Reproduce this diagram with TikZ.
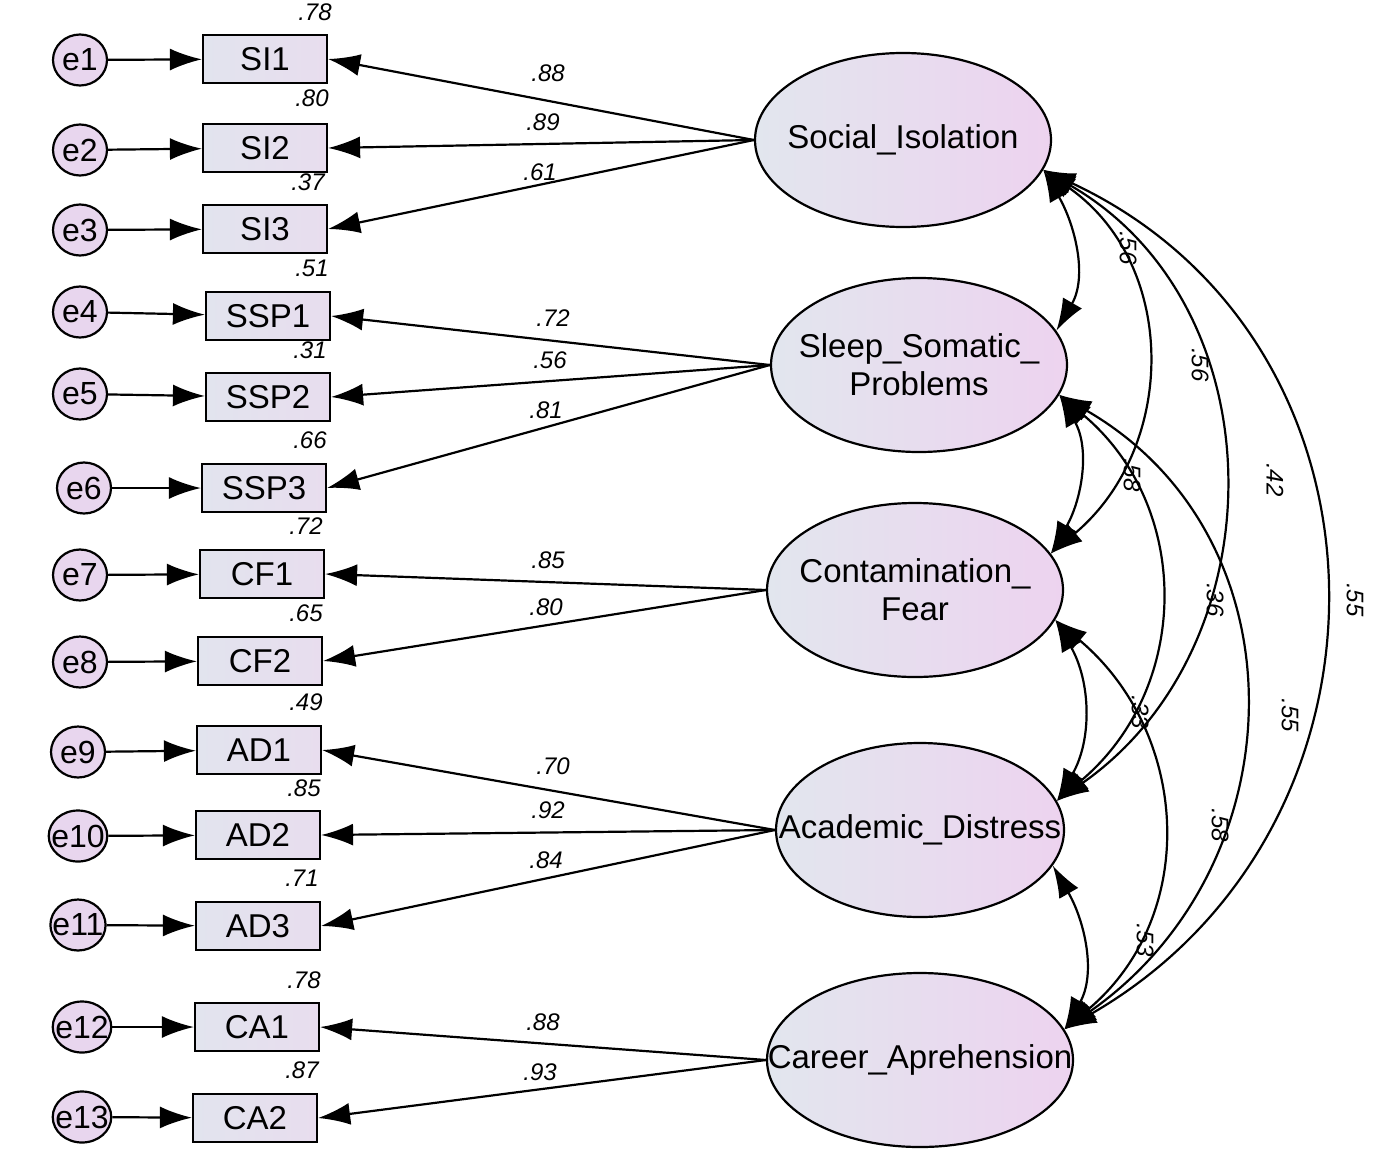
\documentclass[tikz,border=0pt]{standalone}
\usepackage{fontspec}
\setmainfont{Liberation Sans}
\usetikzlibrary{arrows.meta,shapes.geometric}
\begin{document}
\begin{tikzpicture}[x=0.5pt,y=-0.5pt,
  tip/.tip={Latex[length=16pt,width=11pt]},
  err/.style={draw,line width=1.1pt,ellipse,minimum width=27pt,minimum height=25.5pt,inner sep=-3pt,fill=errfill,font=\fontsize{16}{16}\selectfont},
  obs/.style={draw,line width=1.1pt,rectangle,minimum width=62pt,minimum height=24pt,inner sep=0pt,left color=boxl,right color=boxr,font=\fontsize{16.5}{16.5}\selectfont},
  lat/.style={draw,line width=1.1pt,ellipse,minimum width=148pt,minimum height=87pt,inner xsep=-16pt,inner ysep=0pt,left color=latl,right color=latr,align=center,font=\fontsize{16.5}{19}\selectfont},
  lbl/.style={font=\fontsize{12}{12}\selectfont\itshape,inner sep=0pt},
  arr/.style={line width=1.1pt,-tip},
  cov/.style={line width=1.1pt,tip-tip},
  cl/.style={lbl,rotate=-90}]
\definecolor{errfill}{HTML}{E8D6EE}
\definecolor{boxl}{HTML}{E2E4EE}
\definecolor{boxr}{HTML}{E8DDEE}
\definecolor{latl}{HTML}{E2E6EE}
\definecolor{latr}{HTML}{EDD3EF}
\useasboundingbox (0,0) rectangle (1379,1161);
% latent
\node[lat] (SI) at (903,140) {Social\_Isolation};
\node[lat] (SSP) at (919,365) {Sleep\_Somatic\_\\Problems};
\node[lat] (CF) at (915,590) {Contamination\_\\Fear};
\node[lat,minimum width=144pt,inner xsep=-24pt] (AD) at (920,830) {Academic\_Distress};
\node[lat,minimum width=153pt,inner xsep=-24pt] (CA) at (920,1060) {Career\_Aprehension};
% observed + errors
\foreach \n/\bx/\by/\ex/\ey/\r/\rx/\ry/\i in {
 SI1/265/59/80/60/.78/315/12/1, SI2/265/148/80/150/.80/312/98/2, SI3/265/229/80/230/.37/308/182/3,
 SSP1/268/316/80/312/.51/312/268/4, SSP2/268/397/80/394/.31/310/350/5, SSP3/264/488/84/488/.66/310/440/6,
 CF1/262/574/80/575/.72/306/526/7, CF2/260/661/80/662/.65/306/613/8,
 AD1/259/750/78/752/.49/306/702/9, AD2/258/835/78/836/.85/304/788/10, AD3/258/926/78/925/.71/302/878/11,
 CA1/257/1027/82/1027/.78/304/980/12, CA2/255/1118/82/1117/.87/302/1070/13}{
 \node[obs] (\n) at (\bx,\by) {\n};
 \node[err] (e\i) at (\ex,\ey) {e\i};
 \draw[arr] (e\i) -- (\n);
 \node[lbl] (r\i) at (\rx,\ry) {\r};
}
% loadings
\draw[arr] (SI.west) -- (SI1.east); \node[lbl] (l1) at (548,73) {.88};
\draw[arr] (SI.west) -- (SI2.east); \node[lbl] (l2) at (543,122) {.89};
\draw[arr] (SI.west) -- (SI3.east); \node[lbl] (l3) at (540,172) {.61};
\draw[arr] (SSP.west) -- (SSP1.east); \node[lbl] (l4) at (553,318) {.72};
\draw[arr] (SSP.west) -- (SSP2.east); \node[lbl] (l5) at (550,360) {.56};
\draw[arr] (SSP.west) -- (SSP3.east); \node[lbl] (l6) at (546,410) {.81};
\draw[arr] (CF.west) -- (CF1.east); \node[lbl] (l7) at (548,560) {.85};
\draw[arr] (CF.west) -- (CF2.east); \node[lbl] (l8) at (546,607) {.80};
\draw[arr] (AD.west) -- (AD1.east); \node[lbl] (l9) at (553,766) {.70};
\draw[arr] (AD.west) -- (AD2.east); \node[lbl] (l10) at (548,810) {.92};
\draw[arr] (AD.west) -- (AD3.east); \node[lbl] (l11) at (546,860) {.84};
\draw[arr] (CA.west) -- (CA1.east); \node[lbl] (l12) at (543,1022) {.88};
\draw[arr] (CA.west) -- (CA2.east); \node[lbl] (l13) at (540,1072) {.93};
% covariances
\draw[cov] (SI.-12) to[out=-60,in=60] (SSP.14);
\node[cl] (c1) at (1128,248) {.56};
\draw[cov] (SI.-12) to[out=-35,in=40,looseness=1.1] (CF.15);
\node[cl] (c2) at (1200,365) {.56};
\draw[cov] (SI.-12) to[out=-30,in=35,looseness=1.1] (AD.12);
\node[cl] (c3) at (1275,480) {.42};
\draw[cov] (SI.-12) to[out=-25,in=30,looseness=1.2] (CA.12);
\node[cl] (c4) at (1355,600) {.55};
\draw[cov] (SSP.-12) to[out=-60,in=60] (CF.15);
\node[cl] (c5) at (1132,475) {.58};
\draw[cov] (SSP.-12) to[out=-40,in=40,looseness=1.1] (AD.12);
\node[cl] (c6) at (1215,600) {.36};
\draw[cov] (SSP.-12) to[out=-30,in=35,looseness=1.15] (CA.12);
\node[cl] (c7) at (1290,715) {.55};
\draw[cov] (CF.-12) to[out=-60,in=60] (AD.12);
\node[cl] (c8) at (1140,712) {.33};
\draw[cov] (CF.-12) to[out=-40,in=40,looseness=1.1] (CA.12);
\node[cl] (c9) at (1220,825) {.58};
\draw[cov] (AD.-15) to[out=-60,in=60] (CA.12);
\node[cl] (c10) at (1145,940) {.53};
\end{tikzpicture}
\end{document}
